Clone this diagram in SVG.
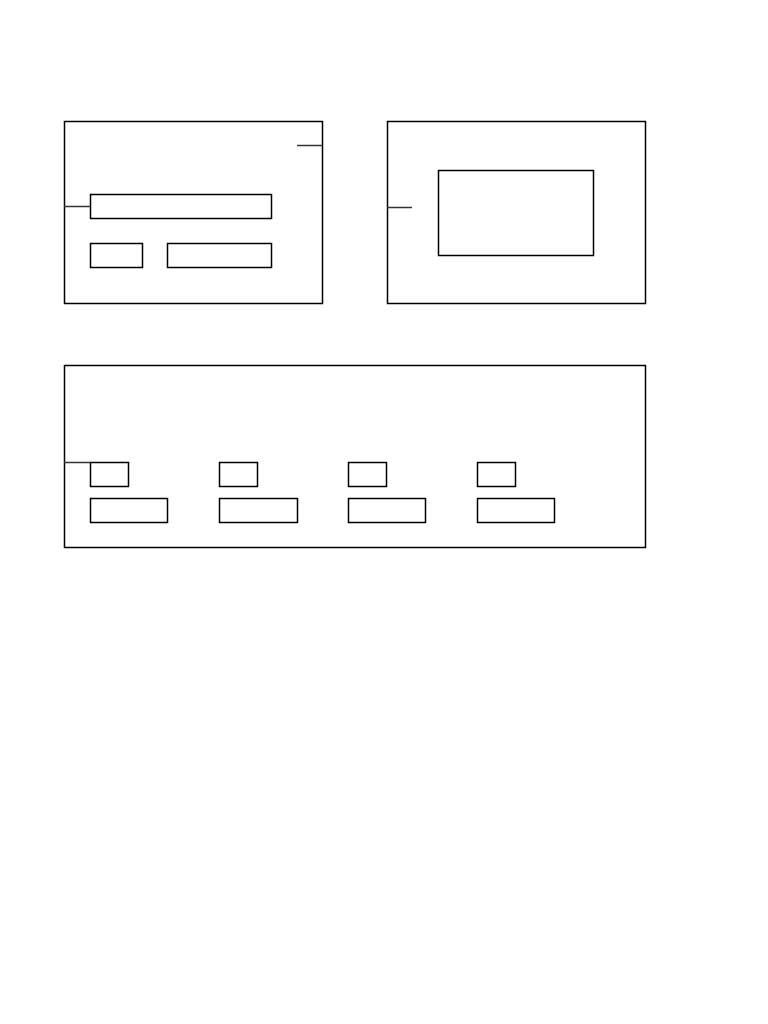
<svg xmlns="http://www.w3.org/2000/svg" width="768" height="1024" viewBox="0 0 768 1024">
<style>
rect{fill:none;stroke:#000;stroke-width:1.5}
line{stroke:#333;stroke-width:1.5}
</style>
<rect x="0" y="0" width="768" height="1024" style="fill:#fff;stroke:none"/>
<g id="panel1">
<rect x="64.5" y="121.5" width="258" height="182"/>
<rect x="90.5" y="194.5" width="181" height="24"/>
<rect x="90.5" y="243.5" width="52" height="24"/>
<rect x="167.5" y="243.5" width="104" height="24"/>
</g>
<g id="panel2">
<rect x="387.5" y="121.5" width="258" height="182"/>
<rect x="438.5" y="170.5" width="155" height="85"/>
</g>
<g id="panel3">
<rect x="64.5" y="365.5" width="581" height="182"/>
<rect x="90.5" y="462.5" width="38" height="24"/>
<rect x="219.5" y="462.5" width="38" height="24"/>
<rect x="348.5" y="462.5" width="38" height="24"/>
<rect x="477.5" y="462.5" width="38" height="24"/>
<rect x="90.5" y="498.5" width="77" height="24"/>
<rect x="219.5" y="498.5" width="78" height="24"/>
<rect x="348.5" y="498.5" width="77" height="24"/>
<rect x="477.5" y="498.5" width="77" height="24"/>
</g>
<g id="connectors">
<line x1="297" y1="145.5" x2="322" y2="145.5"/>
<line x1="64" y1="206.5" x2="90" y2="206.5"/>
<line x1="387" y1="207.5" x2="412" y2="207.5"/>
<line x1="64" y1="462.5" x2="90" y2="462.5"/>
</g>
</svg>
